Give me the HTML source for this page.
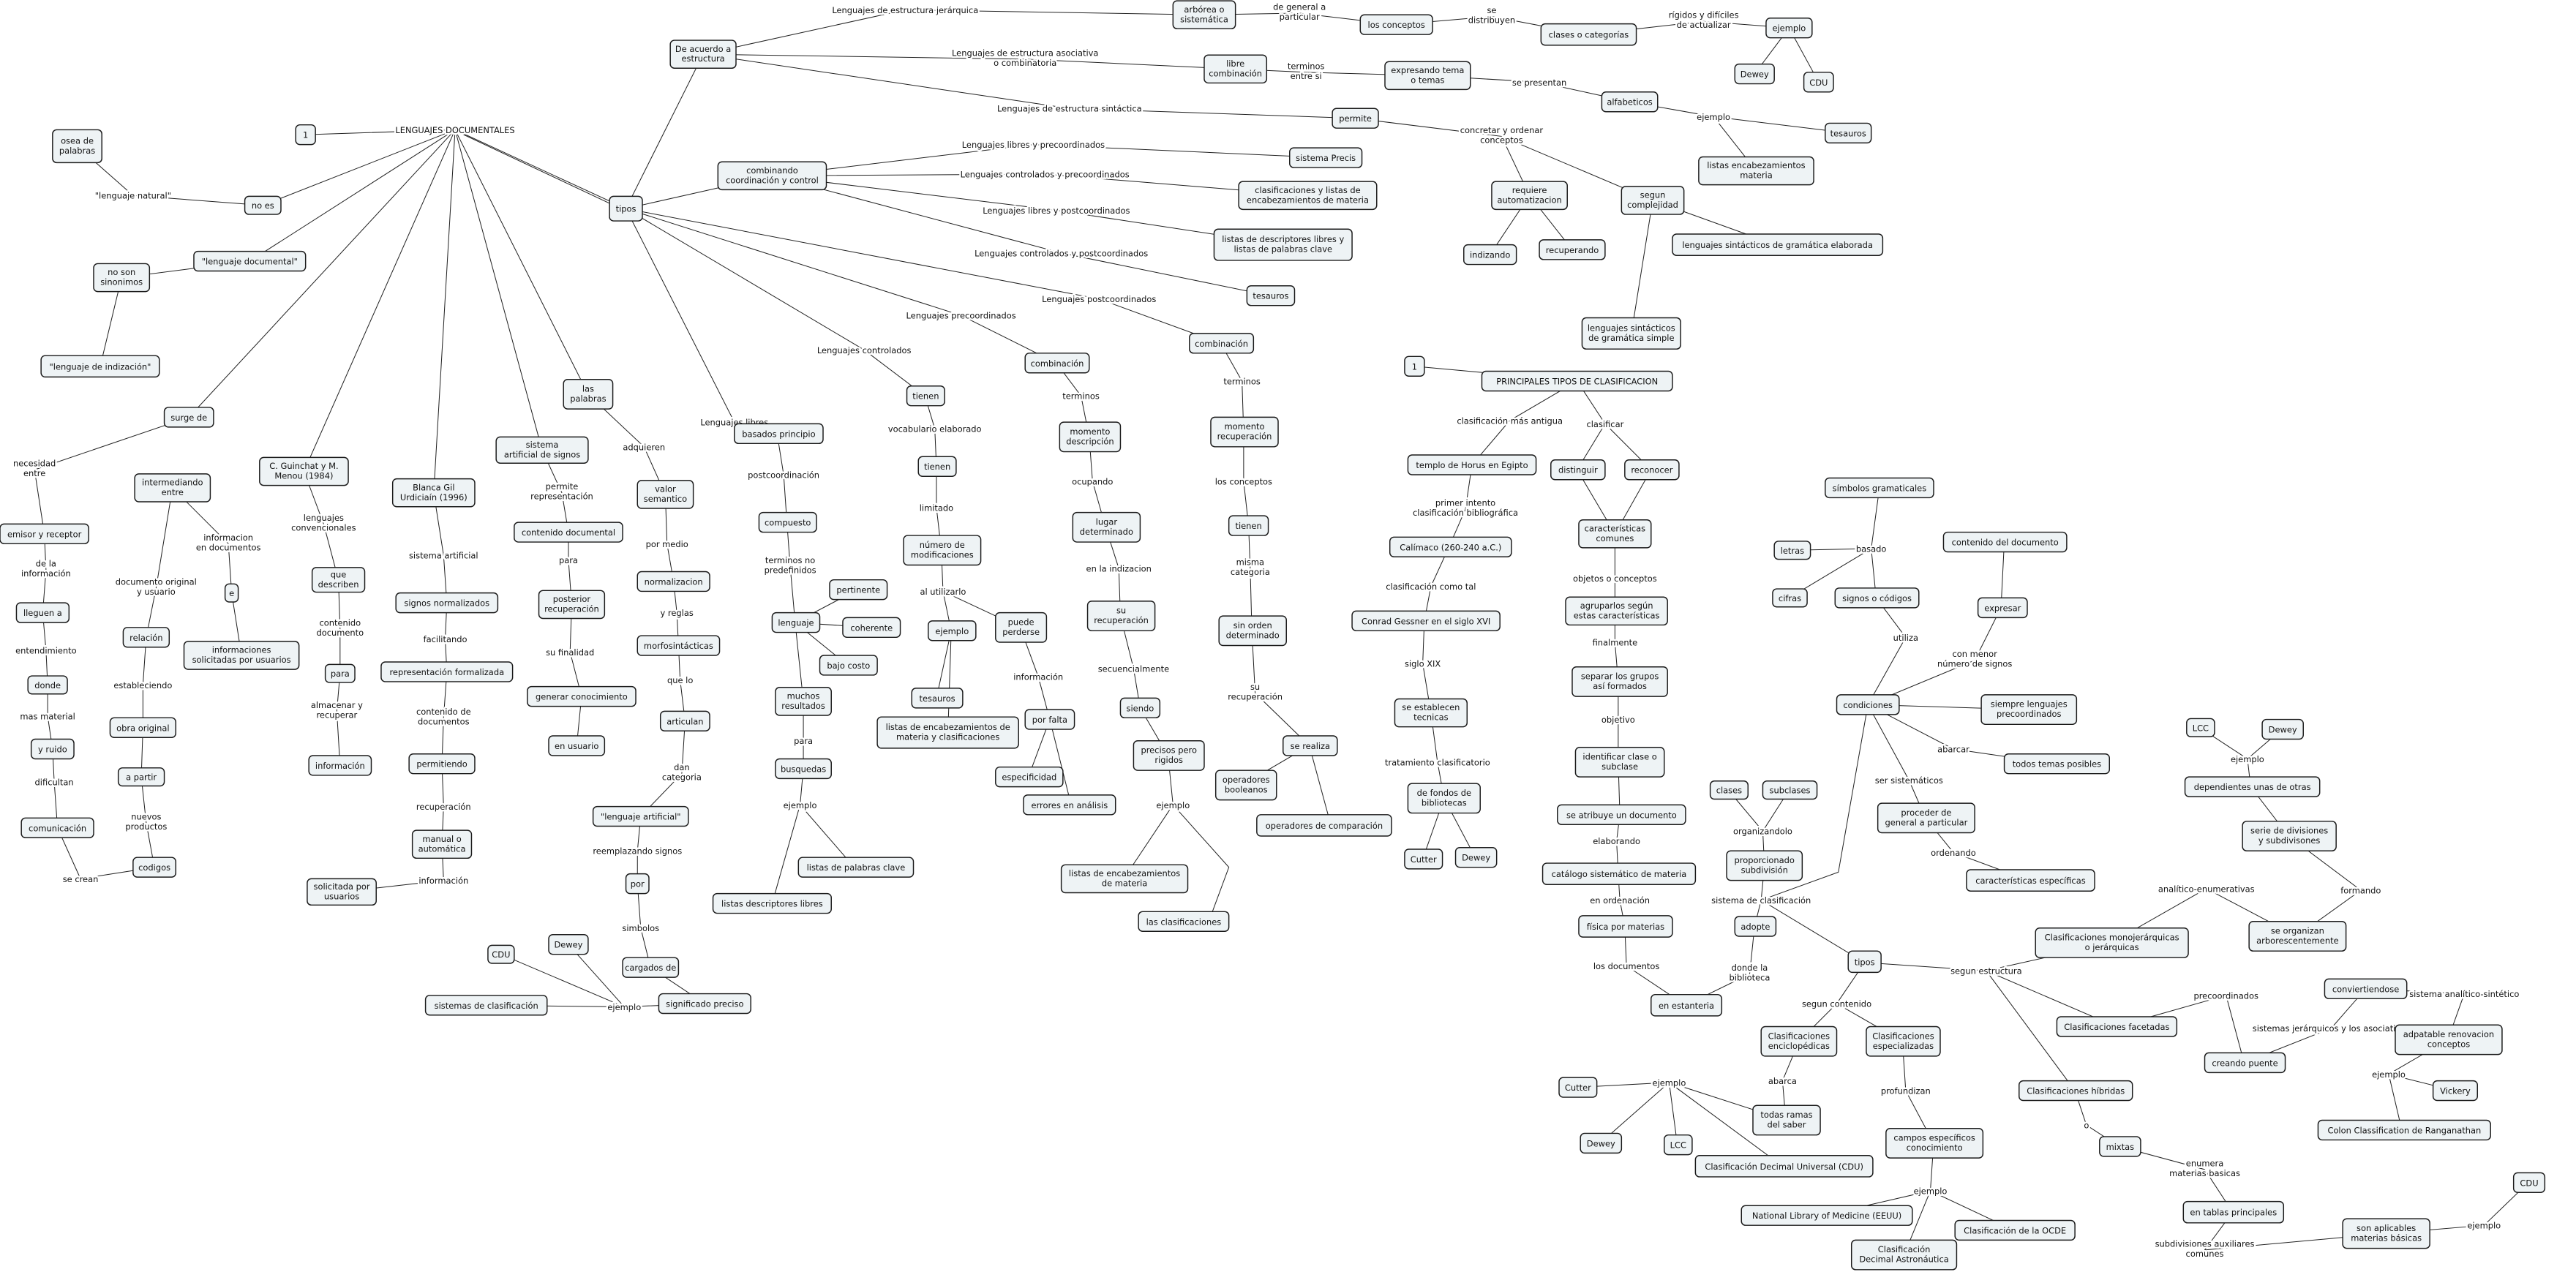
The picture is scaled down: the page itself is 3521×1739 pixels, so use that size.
<!DOCTYPE html>
<html><head><meta charset="utf-8">
<style>
html,body{margin:0;padding:0;background:#fff;width:3521px;height:1739px;overflow:hidden}
svg{display:block}
text{font-family:"DejaVu Sans","Liberation Sans",sans-serif;font-size:5.1px;text-anchor:middle;fill:#111}
.n rect{fill:#eef3f5;stroke:#1a1a1a;stroke-width:.65}
.l{paint-order:stroke;stroke:#fff;stroke-width:2.2px;stroke-linejoin:round}
.e{fill:none;stroke:#222;stroke-width:.45}
</style></head><body>
<svg width="3521" height="1739" viewBox="0 0 1568 774.4" xmlns="http://www.w3.org/2000/svg">
<rect width="1568" height="774.4" fill="#fff"/>
<path class="e" d="
M186 82L277 79
M277 79L160 125 M277 79L152 159 M277 79L115 254 M277 79L185 287 M277 79L264 300 M277 79L330 274 M277 79L358 240 M277 79L381 127 M278 80L380 128
M47 89L81 119L160 125
M152 159L74 169L61 223
M115 254L21 286L27 325L28 347L26 373L28 396L29 417L29 436L32 456L33 476L35 504L49 535L94 528L89 501L86 473L87 443L87 417L89 388L95 358L105 297L139 331L141 361L147 399
M185 287L197 319L206 353L207 383L207 410L205 433L207 466
M264 300L270 338L272 367L271 389L272 409L270 437L269 465L270 491L269 514L270 536L208 543
M330 274L342 300L346 324L346 341L348 368L347 397L354 424L351 454
M358 240L392 272L405 301L406 331L410 354L412 373L413 393L414 414L417 439L415 471L390 497L388 518L388 538L390 565L396 589L429 611L380 613L296 612 M380 613L305 581 M380 613L346 575
M428 33L381 127 M381 127L470 107 M381 127L669 182L743 209 M381 127L585 192L643 221 M381 127L526 213L563 241 M381 127L447 257L473 264
M428 33L551 6L733 9L791 8L850 15L908 10L966 21L1037 13L1089 17L1068 45 M1089 17L1107 50
M428 33L624 36L752 42L795 44L869 46L937 50L992 62L1043 71L1125 81 M1043 71L1069 104
M428 33L651 66L825 72L914 83L931 119 M914 83L1006 122 M931 119L907 155 M931 119L957 152 M1006 122L1081 149 M1006 122L993 203
M470 107L629 88L807 96 M470 107L636 106L795 119 M470 107L643 128L781 149 M470 107L646 154L773 180
M563 241L569 261L570 284L570 309L573 335L574 360L579 384 M574 360L621 382 M579 384L570 425 M579 384L577 446 M621 382L632 412L639 438L626 473 M639 438L652 490
M473 264L477 289L479 318L481 345L484 379L522 359 M484 379L530 382 M484 379L516 405 M484 379L489 427L489 451L489 468L487 490L520 528 M487 490L470 550
M643 221L658 241L663 266L665 293L673 321L681 346L682 375L690 407L694 431L711 460L714 490L684 535 M714 490L748 528L738 555
M743 209L756 232L757 263L757 293L760 320L761 346L762 384L764 422L797 454L756 478 M797 454L810 502
M861 223L960 232 M960 232L919 256L896 283L892 310L882 333L871 357L867 378L866 404L871 434L875 464L879 486L866 523 M879 486L898 522
M960 232L977 258L960 286L983 325 M977 258L1005 286L983 325
M983 325L983 352L983 372L983 391L985 415L985 438L985 464L986 496L984 512L985 532L986 548L989 564L990 588L1026 612L1065 593L1068 564L1072 548L1074 527L1073 506L1052 481 M1073 506L1089 481
M1072 548L1119 531L1137 429 M1072 548L1135 586
M1137 429L1160 388L1142 364L1139 334L1144 297 M1139 334L1091 335 M1139 334L1089 364
M1137 429L1202 402L1218 370L1220 330 M1137 429L1234 432 M1137 429L1189 456L1251 465 M1137 429L1162 475L1172 498L1189 519L1235 536
M1339 443L1368 462L1389 444 M1368 462L1370 479L1393 509L1437 542L1398 570 M1343 541L1398 570 M1343 541L1285 574
M1135 586L1209 591L1285 574 M1209 591L1288 625 M1209 591L1263 664
M1135 586L1118 611L1095 634 M1118 611L1158 634
M1288 625L1355 606L1366 647L1419 626L1440 602L1500 605L1490 633L1454 654L1494 664 M1454 654L1462 688
M1263 664L1270 685L1290 698L1342 712L1359 738L1342 761L1452 751L1512 746L1539 720
M1095 634L1085 658L1087 682
M960 662L1016 659L974 696 M1016 659L1021 697 M1016 659L1085 710 M1016 659L1087 682
M1158 634L1160 664L1177 696L1175 725L1110 740 M1175 725L1226 749 M1175 725L1159 764
"/>
<g class="l">
<text x="277" y="81">LENGUAJES DOCUMENTALES</text>
<text x="81" y="121">"lenguaje natural"</text>
<text x="21" y="284">necesidad<tspan x="21" dy="6">entre</tspan></text>
<text x="28" y="345">de la<tspan x="28" dy="6">información</tspan></text>
<text x="28" y="398">entendimiento</text>
<text x="29" y="438">mas material</text>
<text x="33" y="478">dificultan</text>
<text x="49" y="537">se crean</text>
<text x="89" y="499">nuevos<tspan x="89" dy="6">productos</tspan></text>
<text x="87" y="419">estableciendo</text>
<text x="95" y="356">documento original<tspan x="95" dy="6">y usuario</tspan></text>
<text x="139" y="329">informacion<tspan x="139" dy="6">en documentos</tspan></text>
<text x="197" y="317">lenguajes<tspan x="197" dy="6">convencionales</tspan></text>
<text x="207" y="381">contenido<tspan x="207" dy="6">documento</tspan></text>
<text x="205" y="431">almacenar y<tspan x="205" dy="6">recuperar</tspan></text>
<text x="270" y="340">sistema artificial</text>
<text x="271" y="391">facilitando</text>
<text x="270" y="435">contenido de<tspan x="270" dy="6">documentos</tspan></text>
<text x="270" y="493">recuperación</text>
<text x="270" y="538">información</text>
<text x="342" y="298">permite<tspan x="342" dy="6">representación</tspan></text>
<text x="346" y="343">para</text>
<text x="347" y="399">su finalidad</text>
<text x="392" y="274">adquieren</text>
<text x="406" y="333">por medio</text>
<text x="412" y="375">y reglas</text>
<text x="414" y="416">que lo</text>
<text x="415" y="469">dan<tspan x="415" dy="6">categoria</tspan></text>
<text x="388" y="520">reemplazando signos</text>
<text x="390" y="567">simbolos</text>
<text x="380" y="615">ejemplo</text>
<text x="551" y="8">Lenguajes de estructura jerárquica</text>
<text x="791" y="6">de general a<tspan x="791" dy="6">particular</tspan></text>
<text x="908" y="8">se<tspan x="908" dy="6">distribuyen</tspan></text>
<text x="1037" y="11">rígidos y difíciles<tspan x="1037" dy="6">de actualizar</tspan></text>
<text x="624" y="34">Lenguajes de estructura asociativa<tspan x="624" dy="6">o combinatoria</tspan></text>
<text x="795" y="42">terminos<tspan x="795" dy="6">entre si</tspan></text>
<text x="937" y="52">se presentan</text>
<text x="1043" y="73">ejemplo</text>
<text x="651" y="68">Lenguajes de estructura sintáctica</text>
<text x="914" y="81">concretar y ordenar<tspan x="914" dy="6">conceptos</tspan></text>
<text x="629" y="90">Lenguajes libres y precoordinados</text>
<text x="636" y="108">Lenguajes controlados y precoordinados</text>
<text x="643" y="130">Lenguajes libres y postcoordinados</text>
<text x="646" y="156">Lenguajes controlados y postcoordinados</text>
<text x="669" y="184">Lenguajes postcoordinados</text>
<text x="585" y="194">Lenguajes precoordinados</text>
<text x="526" y="215">Lenguajes controlados</text>
<text x="447" y="259">Lenguajes libres</text>
<text x="477" y="291">postcoordinación</text>
<text x="481" y="343">terminos no<tspan x="481" dy="6">predefinidos</tspan></text>
<text x="489" y="453">para</text>
<text x="487" y="492">ejemplo</text>
<text x="569" y="263">vocabulario elaborado</text>
<text x="570" y="311">limitado</text>
<text x="574" y="362">al utilizarlo</text>
<text x="632" y="414">información</text>
<text x="658" y="243">terminos</text>
<text x="665" y="295">ocupando</text>
<text x="681" y="348">en la indizacion</text>
<text x="690" y="409">secuencialmente</text>
<text x="714" y="492">ejemplo</text>
<text x="756" y="234">terminos</text>
<text x="757" y="295">los conceptos</text>
<text x="761" y="344">misma<tspan x="761" dy="6">categoria</tspan></text>
<text x="764" y="420">su<tspan x="764" dy="6">recuperación</tspan></text>
<text x="919" y="258">clasificación más antigua</text>
<text x="977" y="260">clasificar</text>
<text x="892" y="308">primer intento<tspan x="892" dy="6">clasificación bibliográfica</tspan></text>
<text x="871" y="359">clasificación como tal</text>
<text x="866" y="406">siglo XIX</text>
<text x="875" y="466">tratamiento clasificatorio</text>
<text x="983" y="354">objetos o conceptos</text>
<text x="983" y="393">finalmente</text>
<text x="985" y="440">objetivo</text>
<text x="984" y="514">elaborando</text>
<text x="986" y="550">en ordenación</text>
<text x="990" y="590">los documentos</text>
<text x="1065" y="591">donde la<tspan x="1065" dy="6">biblioteca</tspan></text>
<text x="1072" y="550">sistema de clasificación</text>
<text x="1073" y="508">organizandolo</text>
<text x="1139" y="336">basado</text>
<text x="1160" y="390">utiliza</text>
<text x="1202" y="400">con menor<tspan x="1202" dy="6">número de signos</tspan></text>
<text x="1189" y="458">abarcar</text>
<text x="1162" y="477">ser sistemáticos</text>
<text x="1189" y="521">ordenando</text>
<text x="1368" y="464">ejemplo</text>
<text x="1437" y="544">formando</text>
<text x="1343" y="543">analítico-enumerativas</text>
<text x="1209" y="593">segun estructura</text>
<text x="1118" y="613">segun contenido</text>
<text x="1355" y="608">precoordinados</text>
<text x="1500" y="607">sistema analítico-sintético</text>
<text x="1419" y="628">sistemas jerárquicos y los asociativos</text>
<text x="1454" y="656">ejemplo</text>
<text x="1270" y="687">o</text>
<text x="1342" y="710">enumera<tspan x="1342" dy="6">materias basicas</tspan></text>
<text x="1342" y="759">subdivisiones auxiliares<tspan x="1342" dy="6">comunes</tspan></text>
<text x="1512" y="748">ejemplo</text>
<text x="1016" y="661">ejemplo</text>
<text x="1085" y="660">abarca</text>
<text x="1160" y="666">profundizan</text>
<text x="1175" y="727">ejemplo</text>
</g>
<g class="n">
<rect x="180" y="76" width="12" height="12" rx="2.5"/><text x="186" y="84">1</text>
<rect x="32" y="79" width="30" height="20" rx="2.5"/><text x="47" y="87.5">osea de<tspan x="47" dy="6">palabras</tspan></text>
<rect x="149" y="119.5" width="22" height="11" rx="2.5"/><text x="160" y="127">no es</text>
<rect x="118" y="153" width="68" height="12" rx="2.5"/><text x="152" y="161">"lenguaje documental"</text>
<rect x="57" y="160.5" width="34" height="17" rx="2.5"/><text x="74" y="167.5">no son<tspan x="74" dy="6">sinonimos</tspan></text>
<rect x="25" y="216.5" width="72" height="13" rx="2.5"/><text x="61" y="225">"lenguaje de indización"</text>
<rect x="100" y="248" width="30" height="12" rx="2.5"/><text x="115" y="256">surge de</text>
<rect x="0" y="319" width="54" height="12" rx="2.5"/><text x="27" y="327">emisor y receptor</text>
<rect x="10" y="367" width="32" height="12" rx="2.5"/><text x="26" y="375">lleguen a</text>
<rect x="17" y="411.5" width="24" height="11" rx="2.5"/><text x="29" y="419">donde</text>
<rect x="19" y="450" width="26" height="12" rx="2.5"/><text x="32" y="458">y ruido</text>
<rect x="13" y="498" width="44" height="12" rx="2.5"/><text x="35" y="506">comunicación</text>
<rect x="81" y="522" width="26" height="12" rx="2.5"/><text x="94" y="530">codigos</text>
<rect x="72" y="467.5" width="28" height="11" rx="2.5"/><text x="86" y="475">a partir</text>
<rect x="67" y="437" width="40" height="12" rx="2.5"/><text x="87" y="445">obra original</text>
<rect x="75" y="382" width="28" height="12" rx="2.5"/><text x="89" y="390">relación</text>
<rect x="82" y="288.5" width="46" height="17" rx="2.5"/><text x="105" y="295.5">intermediando<tspan x="105" dy="6">entre</tspan></text>
<rect x="137" y="355.5" width="8" height="11" rx="2.5"/><text x="141" y="363">e</text>
<rect x="112" y="390.5" width="70" height="17" rx="2.5"/><text x="147" y="397.5">informaciones<tspan x="147" dy="6">solicitadas por usuarios</tspan></text>
<rect x="158" y="278.5" width="54" height="17" rx="2.5"/><text x="185" y="285.5">C. Guinchat y M.<tspan x="185" dy="6">Menou (1984)</tspan></text>
<rect x="190" y="345.5" width="32" height="15" rx="2.5"/><text x="206" y="351.5">que<tspan x="206" dy="6">describen</tspan></text>
<rect x="198" y="404.5" width="18" height="11" rx="2.5"/><text x="207" y="412">para</text>
<rect x="188" y="460" width="38" height="12" rx="2.5"/><text x="207" y="468">información</text>
<rect x="239" y="291.5" width="50" height="17" rx="2.5"/><text x="264" y="298.5">Blanca Gil<tspan x="264" dy="6">Urdiciaín (1996)</tspan></text>
<rect x="241" y="361" width="62" height="12" rx="2.5"/><text x="272" y="369">signos normalizados</text>
<rect x="232" y="403" width="80" height="12" rx="2.5"/><text x="272" y="411">representación formalizada</text>
<rect x="249" y="459" width="40" height="12" rx="2.5"/><text x="269" y="467">permitiendo</text>
<rect x="251" y="505.5" width="36" height="17" rx="2.5"/><text x="269" y="512.5">manual o<tspan x="269" dy="6">automática</tspan></text>
<rect x="187" y="535" width="42" height="16" rx="2.5"/><text x="208" y="541.5">solicitada por<tspan x="208" dy="6">usuarios</tspan></text>
<rect x="302" y="266" width="56" height="16" rx="2.5"/><text x="330" y="272.5">sistema<tspan x="330" dy="6">artificial de signos</tspan></text>
<rect x="313" y="318" width="66" height="12" rx="2.5"/><text x="346" y="326">contenido documental</text>
<rect x="328" y="359.5" width="40" height="17" rx="2.5"/><text x="348" y="366.5">posterior<tspan x="348" dy="6">recuperación</tspan></text>
<rect x="321" y="418" width="66" height="12" rx="2.5"/><text x="354" y="426">generar conocimiento</text>
<rect x="334" y="448" width="34" height="12" rx="2.5"/><text x="351" y="456">en usuario</text>
<rect x="343" y="231" width="30" height="18" rx="2.5"/><text x="358" y="238.5">las<tspan x="358" dy="6">palabras</tspan></text>
<rect x="388" y="292.5" width="34" height="17" rx="2.5"/><text x="405" y="299.5">valor<tspan x="405" dy="6">semantico</tspan></text>
<rect x="388" y="348" width="44" height="12" rx="2.5"/><text x="410" y="356">normalizacion</text>
<rect x="388" y="387" width="50" height="12" rx="2.5"/><text x="413" y="395">morfosintácticas</text>
<rect x="402" y="433" width="30" height="12" rx="2.5"/><text x="417" y="441">articulan</text>
<rect x="361" y="491" width="58" height="12" rx="2.5"/><text x="390" y="499">"lenguaje artificial"</text>
<rect x="381" y="532" width="14" height="12" rx="2.5"/><text x="388" y="540">por</text>
<rect x="379" y="583" width="34" height="12" rx="2.5"/><text x="396" y="591">cargados de</text>
<rect x="401" y="605" width="56" height="12" rx="2.5"/><text x="429" y="613">significado preciso</text>
<rect x="259" y="606" width="74" height="12" rx="2.5"/><text x="296" y="614">sistemas de clasificación</text>
<rect x="297" y="575.5" width="16" height="11" rx="2.5"/><text x="305" y="583">CDU</text>
<rect x="334" y="569" width="24" height="12" rx="2.5"/><text x="346" y="577">Dewey</text>
<rect x="408" y="24.5" width="40" height="17" rx="2.5"/><text x="428" y="31.5">De acuerdo a<tspan x="428" dy="6">estructura</tspan></text>
<rect x="371" y="119.5" width="20" height="15" rx="2.5"/><text x="381" y="129">tipos</text>
<rect x="714" y="0.5" width="38" height="17" rx="2.5"/><text x="733" y="7.5">arbórea o<tspan x="733" dy="6">sistemática</tspan></text>
<rect x="828" y="9" width="44" height="12" rx="2.5"/><text x="850" y="17">los conceptos</text>
<rect x="938" y="14.5" width="58" height="13" rx="2.5"/><text x="967" y="23">clases o categorías</text>
<rect x="1075" y="11" width="28" height="12" rx="2.5"/><text x="1089" y="19">ejemplo</text>
<rect x="1056" y="39" width="24" height="12" rx="2.5"/><text x="1068" y="47">Dewey</text>
<rect x="1098" y="44" width="18" height="12" rx="2.5"/><text x="1107" y="52">CDU</text>
<rect x="733" y="33.5" width="38" height="17" rx="2.5"/><text x="752" y="40.5">libre<tspan x="752" dy="6">combinación</tspan></text>
<rect x="843" y="37.5" width="52" height="17" rx="2.5"/><text x="869" y="44.5">expresando tema<tspan x="869" dy="6">o temas</tspan></text>
<rect x="975" y="56" width="34" height="12" rx="2.5"/><text x="992" y="64">alfabeticos</text>
<rect x="1111" y="75" width="28" height="12" rx="2.5"/><text x="1125" y="83">tesauros</text>
<rect x="1034" y="95.5" width="70" height="17" rx="2.5"/><text x="1069" y="102.5">listas encabezamientos<tspan x="1069" dy="6">materia</tspan></text>
<rect x="811" y="66" width="28" height="12" rx="2.5"/><text x="825" y="74">permite</text>
<rect x="908" y="110.5" width="46" height="17" rx="2.5"/><text x="931" y="117.5">requiere<tspan x="931" dy="6">automatizacion</tspan></text>
<rect x="987" y="113.5" width="38" height="17" rx="2.5"/><text x="1006" y="120.5">segun<tspan x="1006" dy="6">complejidad</tspan></text>
<rect x="891" y="149" width="32" height="12" rx="2.5"/><text x="907" y="157">indizando</text>
<rect x="937" y="146" width="40" height="12" rx="2.5"/><text x="957" y="154">recuperando</text>
<rect x="1018" y="142.5" width="128" height="13" rx="2.5"/><text x="1082" y="151">lenguajes sintácticos de gramática elaborada</text>
<rect x="963" y="193.5" width="60" height="19" rx="2.5"/><text x="993" y="201.5">lenguajes sintácticos<tspan x="993" dy="6">de gramática simple</tspan></text>
<rect x="437" y="98.5" width="66" height="17" rx="2.5"/><text x="470" y="105.5">combinando<tspan x="470" dy="6">coordinación y control</tspan></text>
<rect x="785" y="90" width="44" height="12" rx="2.5"/><text x="807" y="98">sistema Precis</text>
<rect x="754" y="110.5" width="84" height="17" rx="2.5"/><text x="796" y="117.5">clasificaciones y listas de<tspan x="796" dy="6">encabezamientos de materia</tspan></text>
<rect x="739" y="139.5" width="84" height="19" rx="2.5"/><text x="781" y="147.5">listas de descriptores libres y<tspan x="781" dy="6">listas de palabras clave</tspan></text>
<rect x="759" y="174" width="29" height="12" rx="2.5"/><text x="773.5" y="182">tesauros</text>
<rect x="724" y="203" width="39" height="12" rx="2.5"/><text x="743.5" y="211">combinación</text>
<rect x="624" y="215" width="39" height="12" rx="2.5"/><text x="643.5" y="223">combinación</text>
<rect x="552" y="235" width="23" height="12" rx="2.5"/><text x="563.5" y="243">tienen</text>
<rect x="447" y="258" width="54" height="12" rx="2.5"/><text x="474" y="266">basados principio</text>
<rect x="462" y="312" width="35" height="12" rx="2.5"/><text x="479.5" y="320">compuesto</text>
<rect x="470" y="373" width="29" height="12" rx="2.5"/><text x="484.5" y="381">lenguaje</text>
<rect x="505" y="353" width="35" height="12" rx="2.5"/><text x="522.5" y="361">pertinente</text>
<rect x="513" y="376" width="35" height="12" rx="2.5"/><text x="530.5" y="384">coherente</text>
<rect x="499" y="399" width="35" height="12" rx="2.5"/><text x="516.5" y="407">bajo costo</text>
<rect x="472" y="418.5" width="34" height="17" rx="2.5"/><text x="489" y="425.5">muchos<tspan x="489" dy="6">resultados</tspan></text>
<rect x="472" y="462" width="34" height="12" rx="2.5"/><text x="489" y="470">busquedas</text>
<rect x="486" y="522" width="70" height="12" rx="2.5"/><text x="521" y="530">listas de palabras clave</text>
<rect x="434" y="544" width="72" height="12" rx="2.5"/><text x="470" y="552">listas descriptores libres</text>
<rect x="559" y="278" width="23" height="12" rx="2.5"/><text x="570.5" y="286">tienen</text>
<rect x="550" y="326" width="47" height="18" rx="2.5"/><text x="573.5" y="333.5">número de<tspan x="573.5" dy="6">modificaciones</tspan></text>
<rect x="565" y="378" width="29" height="12" rx="2.5"/><text x="579.5" y="386">ejemplo</text>
<rect x="606" y="373" width="31" height="18" rx="2.5"/><text x="621.5" y="380.5">puede<tspan x="621.5" dy="6">perderse</tspan></text>
<rect x="555" y="419" width="31" height="12" rx="2.5"/><text x="570.5" y="427">tesauros</text>
<rect x="534" y="436.5" width="86" height="19" rx="2.5"/><text x="577" y="444.5">listas de encabezamientos de<tspan x="577" dy="6">materia y clasificaciones</tspan></text>
<rect x="624" y="432" width="30" height="12" rx="2.5"/><text x="639" y="440">por falta</text>
<rect x="606" y="467" width="41" height="12" rx="2.5"/><text x="626.5" y="475">especificidad</text>
<rect x="623" y="484" width="56" height="12" rx="2.5"/><text x="651" y="492">errores en análisis</text>
<rect x="645" y="257" width="37" height="18" rx="2.5"/><text x="663.5" y="264.5">momento<tspan x="663.5" dy="6">descripción</tspan></text>
<rect x="653" y="312" width="41" height="18" rx="2.5"/><text x="673.5" y="319.5">lugar<tspan x="673.5" dy="6">determinado</tspan></text>
<rect x="662" y="366" width="41" height="18" rx="2.5"/><text x="682.5" y="373.5">su<tspan x="682.5" dy="6">recuperación</tspan></text>
<rect x="682" y="425" width="24" height="12" rx="2.5"/><text x="694" y="433">siendo</text>
<rect x="690" y="451" width="43" height="18" rx="2.5"/><text x="711.5" y="458.5">precisos pero<tspan x="711.5" dy="6">rigidos</tspan></text>
<rect x="646" y="526.5" width="77" height="17" rx="2.5"/><text x="684.5" y="533.5">listas de encabezamientos<tspan x="684.5" dy="6">de materia</tspan></text>
<rect x="693" y="555" width="55" height="12" rx="2.5"/><text x="720.5" y="563">las clasificaciones</text>
<rect x="737" y="254" width="41" height="18" rx="2.5"/><text x="757.5" y="261.5">momento<tspan x="757.5" dy="6">recuperación</tspan></text>
<rect x="748" y="314" width="24" height="12" rx="2.5"/><text x="760" y="322">tienen</text>
<rect x="742" y="375" width="41" height="18" rx="2.5"/><text x="762.5" y="382.5">sin orden<tspan x="762.5" dy="6">determinado</tspan></text>
<rect x="781" y="448" width="33" height="12" rx="2.5"/><text x="797.5" y="456">se realiza</text>
<rect x="740" y="469" width="37" height="18" rx="2.5"/><text x="758.5" y="476.5">operadores<tspan x="758.5" dy="6">booleanos</tspan></text>
<rect x="765" y="496" width="82" height="13" rx="2.5"/><text x="806" y="504.5">operadores de comparación</text>
<rect x="855" y="217" width="12" height="12" rx="2.5"/><text x="861" y="225">1</text>
<rect x="902" y="226" width="116" height="12" rx="2.5"/><text x="960" y="234">PRINCIPALES TIPOS DE CLASIFICACION</text>
<rect x="857" y="277" width="78" height="12" rx="2.5"/><text x="896" y="285">templo de Horus en Egipto</text>
<rect x="944" y="280" width="33" height="12" rx="2.5"/><text x="960.5" y="288">distinguir</text>
<rect x="989" y="280" width="33" height="12" rx="2.5"/><text x="1005.5" y="288">reconocer</text>
<rect x="961" y="316.5" width="44" height="17" rx="2.5"/><text x="983" y="323.5">características<tspan x="983" dy="6">comunes</tspan></text>
<rect x="846" y="327" width="74" height="12" rx="2.5"/><text x="883" y="335">Calímaco (260-240 a.C.)</text>
<rect x="953" y="363.5" width="62" height="17" rx="2.5"/><text x="984" y="370.5">agruparlos según<tspan x="984" dy="6">estas características</tspan></text>
<rect x="823" y="372" width="90" height="12" rx="2.5"/><text x="868" y="380">Conrad Gessner en el siglo XVI</text>
<rect x="957" y="406" width="58" height="18" rx="2.5"/><text x="986" y="413.5">separar los grupos<tspan x="986" dy="6">así formados</tspan></text>
<rect x="849" y="425.5" width="44" height="17" rx="2.5"/><text x="871" y="432.5">se establecen<tspan x="871" dy="6">tecnicas</tspan></text>
<rect x="959" y="455" width="54" height="18" rx="2.5"/><text x="986" y="462.5">identificar clase o<tspan x="986" dy="6">subclase</tspan></text>
<rect x="857" y="477" width="44" height="18" rx="2.5"/><text x="879" y="484.5">de  fondos de<tspan x="879" dy="6">bibliotecas</tspan></text>
<rect x="948" y="490" width="78" height="12" rx="2.5"/><text x="987" y="498">se atribuye un documento</text>
<rect x="855" y="517" width="23" height="12" rx="2.5"/><text x="866.5" y="525">Cutter</text>
<rect x="886" y="516" width="25" height="12" rx="2.5"/><text x="898.5" y="524">Dewey</text>
<rect x="939" y="525.5" width="93" height="13" rx="2.5"/><text x="985.5" y="534">catálogo sistemático de materia</text>
<rect x="961" y="557.5" width="57" height="13" rx="2.5"/><text x="989.5" y="566">física por materias</text>
<rect x="1005" y="605.5" width="43" height="13" rx="2.5"/><text x="1026.5" y="614">en estanteria</text>
<rect x="1056" y="558" width="25" height="12" rx="2.5"/><text x="1068.5" y="566">adopte</text>
<rect x="1051" y="518" width="46" height="18" rx="2.5"/><text x="1074" y="525.5">proporcionado<tspan x="1074" dy="6">subdivisión</tspan></text>
<rect x="1041" y="475.5" width="23" height="11" rx="2.5"/><text x="1052.5" y="483">clases</text>
<rect x="1073" y="475.5" width="33" height="11" rx="2.5"/><text x="1089.5" y="483">subclases</text>
<rect x="1111" y="291" width="66" height="12" rx="2.5"/><text x="1144" y="299">símbolos gramaticales</text>
<rect x="1080" y="329.5" width="22" height="11" rx="2.5"/><text x="1091" y="337">letras</text>
<rect x="1079" y="358.5" width="21" height="11" rx="2.5"/><text x="1089.5" y="366">cifras</text>
<rect x="1117" y="358" width="51" height="12" rx="2.5"/><text x="1142.5" y="366">signos o códigos</text>
<rect x="1183" y="324" width="75" height="12" rx="2.5"/><text x="1220.5" y="332">contenido del documento</text>
<rect x="1204" y="364" width="30" height="12" rx="2.5"/><text x="1219" y="372">expresar</text>
<rect x="1118" y="423" width="38" height="12" rx="2.5"/><text x="1137" y="431">condiciones</text>
<rect x="1206" y="423" width="58" height="18" rx="2.5"/><text x="1235" y="430.5">siempre lenguajes<tspan x="1235" dy="6">precoordinados</tspan></text>
<rect x="1220" y="459" width="64" height="12" rx="2.5"/><text x="1252" y="467">todos temas posibles</text>
<rect x="1143" y="489" width="59" height="18" rx="2.5"/><text x="1172.5" y="496.5">proceder de<tspan x="1172.5" dy="6">general a particular</tspan></text>
<rect x="1197" y="529.5" width="78" height="13" rx="2.5"/><text x="1236" y="538">características específicas</text>
<rect x="1331" y="437.5" width="17" height="11" rx="2.5"/><text x="1339.5" y="445">LCC</text>
<rect x="1377" y="438" width="25" height="12" rx="2.5"/><text x="1389.5" y="446">Dewey</text>
<rect x="1330" y="473" width="82" height="12" rx="2.5"/><text x="1371" y="481">dependientes unas de otras</text>
<rect x="1365" y="500" width="57" height="18" rx="2.5"/><text x="1393.5" y="507.5">serie de divisiones<tspan x="1393.5" dy="6">y subdivisones</tspan></text>
<rect x="1369" y="561" width="59" height="18" rx="2.5"/><text x="1398.5" y="568.5">se organizan<tspan x="1398.5" dy="6">arborescentemente</tspan></text>
<rect x="1239" y="565" width="93" height="18" rx="2.5"/><text x="1285.5" y="572.5">Clasificaciones monojerárquicas<tspan x="1285.5" dy="6">o jerárquicas</tspan></text>
<rect x="1125" y="579" width="20" height="13" rx="2.5"/><text x="1135" y="587.5">tipos</text>
<rect x="1072" y="625" width="46" height="18" rx="2.5"/><text x="1095" y="632.5">Clasificaciones<tspan x="1095" dy="6">enciclopédicas</tspan></text>
<rect x="1136" y="625" width="45" height="18" rx="2.5"/><text x="1158.5" y="632.5">Clasificaciones<tspan x="1158.5" dy="6">especializadas</tspan></text>
<rect x="1252" y="619" width="73" height="12" rx="2.5"/><text x="1288.5" y="627">Clasificaciones facetadas</text>
<rect x="1415" y="596" width="50" height="12" rx="2.5"/><text x="1440" y="604">conviertiendose</text>
<rect x="1458" y="624" width="65" height="18" rx="2.5"/><text x="1490.5" y="631.5">adpatable renovacion<tspan x="1490.5" dy="6">conceptos</tspan></text>
<rect x="1342" y="641" width="49" height="12" rx="2.5"/><text x="1366.5" y="649">creando puente</text>
<rect x="1481" y="658" width="27" height="12" rx="2.5"/><text x="1494.5" y="666">Vickery</text>
<rect x="1411" y="682" width="105" height="12" rx="2.5"/><text x="1463.5" y="690">Colon Classification de Ranganathan</text>
<rect x="1229" y="658" width="69" height="12" rx="2.5"/><text x="1263.5" y="666">Clasificaciones híbridas</text>
<rect x="1278" y="692" width="25" height="12" rx="2.5"/><text x="1290.5" y="700">mixtas</text>
<rect x="1329" y="731.5" width="61" height="13" rx="2.5"/><text x="1359.5" y="740">en tablas principales</text>
<rect x="1426" y="742" width="53" height="18" rx="2.5"/><text x="1452.5" y="749.5">son aplicables<tspan x="1452.5" dy="6">materias básicas</tspan></text>
<rect x="1530" y="714" width="19" height="12" rx="2.5"/><text x="1539.5" y="722">CDU</text>
<rect x="949" y="656" width="23" height="12" rx="2.5"/><text x="960.5" y="664">Cutter</text>
<rect x="962" y="690" width="25" height="12" rx="2.5"/><text x="974.5" y="698">Dewey</text>
<rect x="1013" y="691" width="17" height="12" rx="2.5"/><text x="1021.5" y="699">LCC</text>
<rect x="1067" y="673" width="41" height="18" rx="2.5"/><text x="1087.5" y="680.5">todas ramas<tspan x="1087.5" dy="6">del saber</tspan></text>
<rect x="1032" y="703.5" width="108" height="13" rx="2.5"/><text x="1086" y="712">Clasificación Decimal Universal (CDU)</text>
<rect x="1148" y="687" width="59" height="18" rx="2.5"/><text x="1177.5" y="694.5">campos específicos<tspan x="1177.5" dy="6">conocimiento</tspan></text>
<rect x="1060" y="734" width="104" height="12" rx="2.5"/><text x="1112" y="742">National Library of Medicine (EEUU)</text>
<rect x="1190" y="743" width="73" height="12" rx="2.5"/><text x="1226.5" y="751">Clasificación de la OCDE</text>
<rect x="1127" y="755" width="64" height="18" rx="2.5"/><text x="1159" y="762.5">Clasificación<tspan x="1159" dy="6">Decimal Astronáutica</tspan></text>
</g>
</svg>
</body></html>
